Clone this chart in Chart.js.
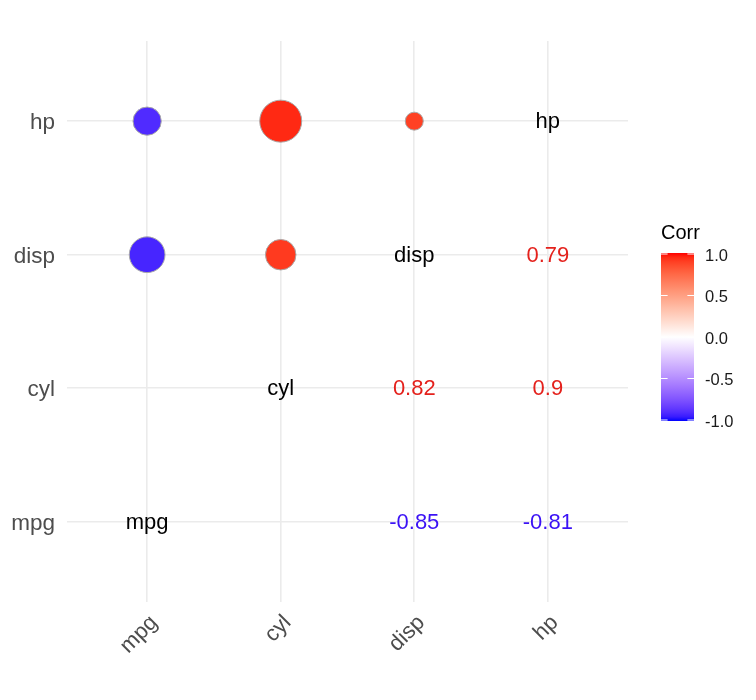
<!DOCTYPE html>
<html>
<head>
<meta charset="utf-8">
<script src="https://cdn.jsdelivr.net/npm/chart.js@4.4.1/dist/chart.umd.min.js"></script>
<style>
  html, body { margin: 0; padding: 0; background: #ffffff; }
  #wrap { width: 756px; height: 700px; }
</style>
</head>
<body>
<div id="wrap"><canvas id="c" width="756" height="700"></canvas></div>
<script>
// ---------------- data ----------------
const variables = ['mpg', 'cyl', 'disp', 'hp'];
// circles (lower-left part)
const circleX = ['mpg', 'cyl', 'disp', 'mpg', 'cyl'];
const circleY = ['hp', 'hp', 'hp', 'disp', 'disp'];
const circleCorr = [-0.81, 0.90, 0.79, -0.85, 0.82];   // drives circle size
const circleFill = [-0.90, 0.95, 0.89, -0.92, 0.91];   // drives circle colour (read from fills)
// numeric labels (upper-right part)
const valueX = ['hp', 'disp', 'hp', 'disp', 'hp'];
const valueY = ['disp', 'cyl', 'cyl', 'mpg', 'mpg'];
const valueCorr = [0.79, 0.82, 0.9, -0.85, -0.81];
// legend
const legendTitle = 'Corr';
const legendTicks = [1.0, 0.5, 0.0, -0.5, -1.0];

// ---------------- colour scale (Lab interpolation white -> blue / red) ----------------
function toLin(c) { c /= 255; return c <= 0.04045 ? c / 12.92 : Math.pow((c + 0.055) / 1.055, 2.4); }
function toSrgb(c) { c = Math.max(0, Math.min(1, c)); return 255 * (c <= 0.0031308 ? 12.92 * c : 1.055 * Math.pow(c, 1 / 2.4) - 0.055); }
const WX = 0.95047, WY = 1.0, WZ = 1.08883;
function f(t) { return t > 0.008856 ? Math.cbrt(t) : 7.787 * t + 16 / 116; }
function finv(t) { return t > 0.206893 ? t * t * t : (t - 16 / 116) / 7.787; }
function rgbToLab(rgb) {
  const r = toLin(rgb[0]), g = toLin(rgb[1]), b = toLin(rgb[2]);
  const X = 0.4124 * r + 0.3576 * g + 0.1805 * b;
  const Y = 0.2126 * r + 0.7152 * g + 0.0722 * b;
  const Z = 0.0193 * r + 0.1192 * g + 0.9505 * b;
  const fx = f(X / WX), fy = f(Y / WY), fz = f(Z / WZ);
  return [116 * fy - 16, 500 * (fx - fy), 200 * (fy - fz)];
}
function labToRgb(lab) {
  const fy = (lab[0] + 16) / 116, fx = fy + lab[1] / 500, fz = fy - lab[2] / 200;
  const X = WX * finv(fx), Y = WY * finv(fy), Z = WZ * finv(fz);
  const r = 3.2406 * X - 1.5372 * Y - 0.4986 * Z;
  const g = -0.9689 * X + 1.8758 * Y + 0.0415 * Z;
  const b = 0.0557 * X - 0.2040 * Y + 1.0570 * Z;
  return [toSrgb(r), toSrgb(g), toSrgb(b)].map(Math.round);
}
const LAB_WHITE = rgbToLab([255, 255, 255]);
const LAB_RED = rgbToLab([255, 0, 0]);
const LAB_BLUE = rgbToLab([0, 0, 255]);
function corrColor(v) {
  const t = Math.min(1, Math.abs(v));
  const end = v < 0 ? LAB_BLUE : LAB_RED;
  const lab = LAB_WHITE.map((w, i) => w + (end[i] - w) * t);
  const c = labToRgb(lab);
  return 'rgb(' + c[0] + ',' + c[1] + ',' + c[2] + ')';
}

// size scale (area-like)
const absVals = circleCorr.map(Math.abs);
const aMin = Math.min(...absVals), aMax = Math.max(...absVals);
function sizeOf(v) {
  const t = (Math.abs(v) - aMin) / (aMax - aMin);
  return 9 + 12 * Math.sqrt(t);
}

const FONT = '"Liberation Sans", Arial, Helvetica, sans-serif';
const idx = name => variables.indexOf(name);

const circlePoints = circleX.map((xn, i) => ({ x: idx(xn), y: idx(circleY[i]) }));

// ---------------- plugins ----------------
const cellText = {
  id: 'cellText',
  afterDatasetsDraw(chart) {
    const ctx = chart.ctx, xs = chart.scales.x, ys = chart.scales.y;
    ctx.save();
    ctx.font = '22px ' + FONT;
    ctx.textAlign = 'center';
    ctx.textBaseline = 'middle';
    variables.forEach((v, i) => {
      ctx.fillStyle = '#000000';
      ctx.fillText(v, xs.getPixelForValue(i), ys.getPixelForValue(i) + 1);
    });
    valueCorr.forEach((val, i) => {
      ctx.fillStyle = val < 0 ? '#3b12f5' : '#e4211c';
      ctx.fillText(String(val), xs.getPixelForValue(idx(valueX[i])), ys.getPixelForValue(idx(valueY[i])) + 1);
    });
    ctx.restore();
  }
};

const colorBar = {
  id: 'colorBar',
  afterDraw(chart) {
    const ctx = chart.ctx;
    const bx = 661, bw = 33;
    const yFor = v => 337 - v * 83;
    const top = yFor(1) - 1, bot = yFor(-1) + 1;
    ctx.save();
    // title
    ctx.fillStyle = '#000000';
    ctx.font = '20px ' + FONT;
    ctx.textAlign = 'left';
    ctx.textBaseline = 'middle';
    ctx.fillText(legendTitle, 661, 233);
    // gradient bar
    const grad = ctx.createLinearGradient(0, top, 0, bot);
    const N = 40;
    for (let k = 0; k <= N; k++) {
      const v = 1 - 2 * k / N;
      grad.addColorStop(k / N, corrColor(v));
    }
    ctx.fillStyle = grad;
    ctx.fillRect(bx, top, bw, bot - top);
    // ticks + labels
    ctx.strokeStyle = '#ffffff';
    ctx.lineWidth = 1;
    ctx.font = '16.5px ' + FONT;
    ctx.fillStyle = '#1a1a1a';
    legendTicks.forEach(v => {
      const y = yFor(v);
      ctx.beginPath();
      ctx.moveTo(bx, y); ctx.lineTo(bx + 6.6, y);
      ctx.moveTo(bx + bw - 6.6, y); ctx.lineTo(bx + bw, y);
      ctx.stroke();
      ctx.fillText(v.toFixed(1), 705, y + 2);
    });
    ctx.restore();
  }
};

// ---------------- chart ----------------
const gridOpts = { color: '#ebebeb', lineWidth: 1.6, drawTicks: false };
new Chart(document.getElementById('c'), {
  type: 'scatter',
  data: {
    datasets: [{
      data: circlePoints,
      pointRadius: circleCorr.map(sizeOf),
      pointHoverRadius: circleCorr.map(sizeOf),
      backgroundColor: circleFill.map(corrColor),
      borderColor: '#a8a8a8',
      borderWidth: 1
    }]
  },
  options: {
    responsive: false,
    animation: false,
    events: [],
    layout: { padding: { top: 41, right: 128, left: 0, bottom: 0 } },
    plugins: { legend: { display: false }, tooltip: { enabled: false } },
    scales: {
      x: {
        type: 'linear', min: -0.6, max: 3.6,
        afterBuildTicks: s => { s.ticks = variables.map((v, i) => ({ value: i })); },
        afterFit: s => { s.height = 98; },
        grid: gridOpts,
        border: { display: false },
        ticks: {
          callback: v => variables[v],
          minRotation: 45, maxRotation: 45,
          padding: 8,
          labelOffset: 7,
          color: '#4d4d4d',
          font: { size: 22, family: FONT }
        }
      },
      y: {
        type: 'linear', min: -0.6, max: 3.6,
        afterBuildTicks: s => { s.ticks = variables.map((v, i) => ({ value: i })); },
        afterFit: s => { s.width = 67; },
        grid: gridOpts,
        border: { display: false },
        ticks: {
          callback: v => variables[v],
          padding: 12,
          labelOffset: 2,
          color: '#4d4d4d',
          font: { size: 22.5, family: FONT }
        }
      }
    }
  },
  plugins: [cellText, colorBar]
});
</script>
</body>
</html>
